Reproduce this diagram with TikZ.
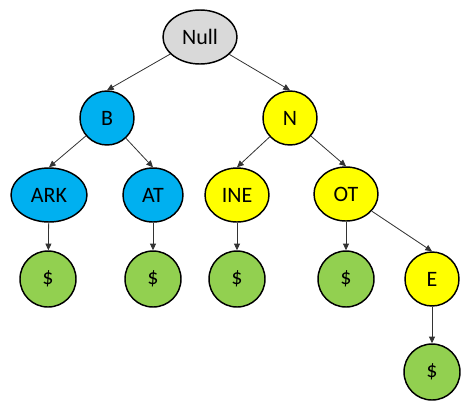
\documentclass[tikz,border=0pt]{standalone}
\usepackage{fontspec}
\setmainfont{Carlito}
\usetikzlibrary{arrows.meta,shapes.geometric}
\definecolor{nullgray}{HTML}{D9D9D9}
\definecolor{triblue}{HTML}{00B0F0}
\definecolor{triyellow}{HTML}{FFFF00}
\definecolor{trigreen}{HTML}{92D050}
\begin{document}
\begin{tikzpicture}[
  x=0.75pt, y=-0.75pt,
  trinode/.style={draw=black, line width=1.1pt, ellipse, inner sep=0pt, font=\fontsize{16.5}{19}\selectfont},
  oval/.style={trinode, minimum height=40.5pt},
  round/.style={trinode, circle, minimum size=40.5pt},
  endnode/.style={round, fill=trigreen, minimum size=42pt},
  arrow/.style={-{Triangle[length=5pt,width=4.5pt]}, draw=black!80, line width=0.6pt}
]
  \useasboundingbox (0,0) rectangle (474,408);

  % Root
  \node[oval, fill=nullgray, minimum width=55.5pt] (null) at (200,37) {Null};

  % First level
  \node[round, fill=triblue] (b) at (107,118) {B};
  \node[round, fill=triyellow] (n) at (290,118) {N};

  % Second level
  \node[oval, fill=triblue, minimum width=57pt] (ark) at (49,195) {ARK};
  \node[oval, fill=triblue, minimum width=45pt] (at) at (153,195) {AT};
  \node[oval, fill=triyellow, minimum width=48pt] (ine) at (237,195) {INE};
  \node[oval, fill=triyellow, minimum width=48pt] (ot) at (346,194) {OT};

  % End markers
  \node[endnode] (ark-end) at (48,279) {\$};
  \node[endnode] (at-end) at (153,279) {\$};
  \node[endnode] (ine-end) at (237,279) {\$};
  \node[endnode] (ot-end) at (346,279) {\$};
  \node[round, fill=triyellow] (e) at (432,279) {E};
  \node[endnode] (e-end) at (432,372) {\$};

  % Arrows
  \draw[arrow] (null) -- (b.north);
  \draw[arrow] (null) -- (n.north);
  \draw[arrow] (b) -- (ark.north);
  \draw[arrow] (b) -- (at.north);
  \draw[arrow] (n) -- (ine.north);
  \draw[arrow] (n) -- (ot.north);
  \draw[arrow] (ark) -- (ark-end);
  \draw[arrow] (at) -- (at-end);
  \draw[arrow] (ine) -- (ine-end);
  \draw[arrow] (ot) -- (ot-end);
  \draw[arrow] (ot) -- (e.north);
  \draw[arrow] (e) -- (e-end);
\end{tikzpicture}
\end{document}
